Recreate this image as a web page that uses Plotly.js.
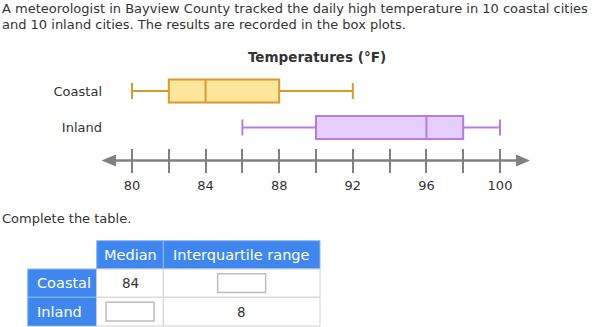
<!DOCTYPE html>
<html>
<head>
<meta charset="utf-8">
<script src="https://cdn.plot.ly/plotly-3.0.1.min.js"></script>
<style>html,body{margin:0;padding:0;background:#fff;}#chart{width:600px;height:327px;}</style>
</head>
<body>
<div id="chart"></div>
<script>
// ---- data ----
var groups = ['Coastal', 'Inland'];
var minVals = [80, 86];
var q1Vals = [82, 90];
var medianVals = [84, 96];
var q3Vals = [88, 98];
var maxVals = [92, 100];
var tickValues = [80, 82, 84, 86, 88, 90, 92, 94, 96, 98, 100];
var tickLabels = ['80', '', '84', '', '88', '', '92', '', '96', '', '100'];
var introLines = [
  'A meteorologist in Bayview County tracked the daily high temperature in 10 coastal cities',
  'and 10 inland cities. The results are recorded in the box plots.'
];
var chartTitle = 'Temperatures (°F)';
var promptText = 'Complete the table.';
var tableCols = ['Median', 'Interquartile range'];
var tableRows = ['Coastal', 'Inland'];
var tableValues = [['84', null], [null, '8']]; // null = answer box

// ---- layout helpers ----
var W = 600, H = 327;
function fx(p) { return p / W; }
function fy(p) { return 1 - p / H; }
var FONT = 'DejaVu Sans, Verdana, sans-serif';
var TXT = '#333333';
var GRAY = '#808080';
var BLUE = '#3f87ee';

var styles = {
  Coastal: {line: '#d69a2d', fill: '#fee79a'},
  Inland: {line: '#b57ce8', fill: '#e6cffd'}
};

var traces = groups.map(function (g, i) {
  return {
    type: 'box', orientation: 'h', name: g,
    y: [g], q1: [q1Vals[i]], median: [medianVals[i]], q3: [q3Vals[i]],
    lowerfence: [minVals[i]], upperfence: [maxVals[i]],
    width: 0.63, whiskerwidth: 0.7,
    line: {color: styles[g].line, width: 2},
    fillcolor: styles[g].fill,
    hoverinfo: 'skip', showlegend: false
  };
});

var shapes = [];
var annotations = [];

// number line
var lineY = 160.5;
shapes.push({type: 'line', xref: 'paper', yref: 'paper', x0: fx(110), x1: fx(522), y0: fy(lineY), y1: fy(lineY), line: {color: GRAY, width: 2.5}});
function tri(tipX, backX) {
  return 'M' + fx(tipX) + ',' + fy(lineY) + ' L' + fx(backX) + ',' + fy(lineY - 6) + ' L' + fx(backX) + ',' + fy(lineY + 6) + ' Z';
}
shapes.push({type: 'path', xref: 'paper', yref: 'paper', path: tri(101.5, 116), fillcolor: GRAY, line: {width: 0}});
shapes.push({type: 'path', xref: 'paper', yref: 'paper', path: tri(530, 516), fillcolor: GRAY, line: {width: 0}});

// intro text
var introY = [8, 24];
introLines.forEach(function (t, i) {
  annotations.push({text: t, xref: 'paper', yref: 'paper', x: 0, y: fy(introY[i]), xanchor: 'left', yanchor: 'middle', showarrow: false, font: {family: FONT, size: 13, color: TXT}});
});
annotations.push({text: promptText, xref: 'paper', yref: 'paper', x: 0, y: fy(218), xanchor: 'left', yanchor: 'middle', showarrow: false, font: {family: FONT, size: 13, color: TXT}});

// table
var colX = [27.7, 96.7, 163.3, 320];
var rowY = [240.7, 269, 297.3, 326];
var TF = 14.5;
function rect(x0, y0, x1, y1, fill, lc, lw) {
  shapes.push({type: 'rect', xref: 'paper', yref: 'paper', x0: fx(x0), x1: fx(x1), y0: fy(y0), y1: fy(y1), fillcolor: fill, line: {color: lc, width: lw}});
}
// header
tableCols.forEach(function (c, j) {
  rect(colX[j + 1], rowY[0], colX[j + 2], rowY[1], BLUE, '#8db6f3', 1);
  annotations.push({text: c, xref: 'paper', yref: 'paper', x: fx((colX[j + 1] + colX[j + 2]) / 2), y: fy((rowY[0] + rowY[1]) / 2), xanchor: 'center', yanchor: 'middle', showarrow: false, font: {family: FONT, size: TF, color: '#ffffff'}});
});
tableRows.forEach(function (r, i) {
  rect(colX[0], rowY[i + 1], colX[1], rowY[i + 2], BLUE, '#8db6f3', 1);
  annotations.push({text: r, xref: 'paper', yref: 'paper', x: fx(colX[0] + 7), y: fy((rowY[i + 1] + rowY[i + 2]) / 2), xanchor: 'left', yanchor: 'middle', showarrow: false, font: {family: FONT, size: TF, color: '#ffffff'}});
  tableCols.forEach(function (c, j) {
    var x0 = colX[j + 1], x1 = colX[j + 2], y0 = rowY[i + 1], y1 = rowY[i + 2];
    rect(x0, y0, x1, y1, '#ffffff', '#d2d2d2', 1);
    var cx = (x0 + x1) / 2, cy = (y0 + y1) / 2;
    var v = tableValues[i][j];
    if (v === null) {
      rect(cx - 24, cy - 9.3, cx + 24, cy + 9.3, '#ffffff', '#bdbdbd', 1.5);
    } else {
      annotations.push({text: v, xref: 'paper', yref: 'paper', x: fx(cx), y: fy(cy), xanchor: 'center', yanchor: 'middle', showarrow: false, font: {family: FONT, size: 13.5, color: TXT}});
    }
  });
});

var layout = {
  width: W, height: H, autosize: false,
  margin: {l: 0, r: 0, t: 0, b: 0, pad: 0},
  paper_bgcolor: '#ffffff', plot_bgcolor: 'rgba(0,0,0,0)',
  showlegend: false,
  title: {text: '<b>' + chartTitle + '</b>', x: fx(317), y: fy(57), xanchor: 'center', yanchor: 'middle', xref: 'paper', yref: 'paper', font: {family: FONT, size: 13.5, color: TXT}},
  xaxis: {
    range: [80 - 132 / 18.4, 80 + (600 - 132) / 18.4], domain: [0, 1],
    anchor: 'free', position: fy(172.5),
    tickmode: 'array', tickvals: tickValues, ticktext: tickLabels,
    ticks: 'inside', ticklen: 24, tickwidth: 2, tickcolor: GRAY,
    ticklabelstandoff: 3,
    showgrid: false, zeroline: false, showline: false, fixedrange: true,
    tickfont: {family: FONT, size: 13, color: TXT}
  },
  yaxis: {
    type: 'category', categoryorder: 'array', categoryarray: ['Inland', 'Coastal'],
    range: [-0.5, 1.5], domain: [fy(145.75), fy(72.75)],
    anchor: 'free', position: fx(102),
    ticks: '', showgrid: false, zeroline: false, showline: false, fixedrange: true,
    tickfont: {family: FONT, size: 13, color: TXT}
  },
  shapes: shapes,
  annotations: annotations
};

Plotly.newPlot('chart', traces, layout, {staticPlot: true, displayModeBar: false});
</script>
</body>
</html>
